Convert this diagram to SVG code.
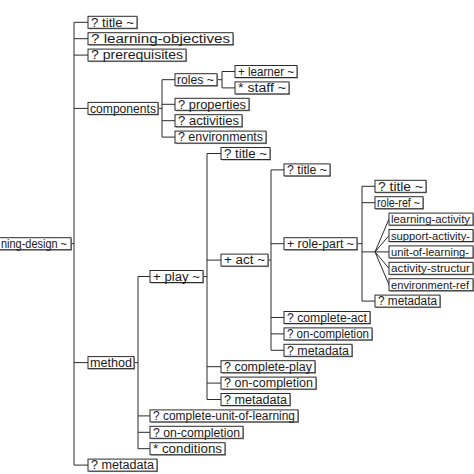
<svg xmlns="http://www.w3.org/2000/svg" width="474" height="474" viewBox="0 0 474 474">
<style>
.bx{fill:#fff;stroke:#2a2a2a;stroke-width:1}
.sh{fill:#9a9a9a}
.t{font-family:"Liberation Sans",Arial,sans-serif;font-size:12.5px;fill:#1a1a1a}
.ts{font-size:11.2px}
.c line,.c polyline{stroke:#2a2a2a;stroke-width:1;fill:none}
</style>
<rect width="474" height="474" fill="#fff"/>
<g class="c" id="connectors">
<line x1="74" y1="22.3" x2="74" y2="465.1"/>
<line x1="71" y1="243.7" x2="74" y2="243.7"/>
<line x1="74" y1="22.3" x2="88" y2="22.3"/>
<line x1="74" y1="38.7" x2="88" y2="38.7"/>
<line x1="74" y1="55.1" x2="88" y2="55.1"/>
<line x1="74" y1="108.4" x2="88" y2="108.4"/>
<line x1="74" y1="362.6" x2="88" y2="362.6"/>
<line x1="74" y1="465.1" x2="88" y2="465.1"/>
<line x1="158" y1="108.4" x2="162" y2="108.4"/>
<line x1="162" y1="79.7" x2="162" y2="137.1"/>
<line x1="162" y1="79.7" x2="175" y2="79.7"/>
<line x1="162" y1="104.3" x2="175" y2="104.3"/>
<line x1="162" y1="120.7" x2="175" y2="120.7"/>
<line x1="162" y1="137.1" x2="175" y2="137.1"/>
<line x1="217" y1="79.7" x2="222" y2="79.7"/>
<line x1="222" y1="71.5" x2="222" y2="87.9"/>
<line x1="222" y1="71.5" x2="235" y2="71.5"/>
<line x1="222" y1="87.9" x2="235" y2="87.9"/>
<line x1="134" y1="362.6" x2="138" y2="362.6"/>
<line x1="138" y1="276.5" x2="138" y2="448.7"/>
<line x1="138" y1="276.5" x2="150" y2="276.5"/>
<line x1="138" y1="415.9" x2="150" y2="415.9"/>
<line x1="138" y1="432.3" x2="150" y2="432.3"/>
<line x1="138" y1="448.7" x2="150" y2="448.7"/>
<line x1="203" y1="276.5" x2="207" y2="276.5"/>
<line x1="207" y1="153.5" x2="207" y2="399.5"/>
<line x1="207" y1="153.5" x2="221" y2="153.5"/>
<line x1="207" y1="260.1" x2="221" y2="260.1"/>
<line x1="207" y1="366.7" x2="221" y2="366.7"/>
<line x1="207" y1="383.1" x2="221" y2="383.1"/>
<line x1="207" y1="399.5" x2="221" y2="399.5"/>
<line x1="268" y1="260.1" x2="271" y2="260.1"/>
<line x1="271" y1="169.9" x2="271" y2="350.3"/>
<line x1="271" y1="169.9" x2="284" y2="169.9"/>
<line x1="271" y1="243.7" x2="284" y2="243.7"/>
<line x1="271" y1="317.5" x2="284" y2="317.5"/>
<line x1="271" y1="333.9" x2="284" y2="333.9"/>
<line x1="271" y1="350.3" x2="284" y2="350.3"/>
<line x1="357" y1="243.7" x2="362" y2="243.7"/>
<line x1="362" y1="186.3" x2="362" y2="301.1"/>
<line x1="362" y1="186.3" x2="375" y2="186.3"/>
<line x1="362" y1="202.7" x2="375" y2="202.7"/>
<line x1="362" y1="301.1" x2="375" y2="301.1"/>
<line x1="362" y1="251.9" x2="375" y2="251.9"/>
<line x1="375" y1="251.9" x2="389" y2="219.1"/>
<line x1="375" y1="251.9" x2="389" y2="235.5"/>
<line x1="375" y1="251.9" x2="389" y2="251.9"/>
<line x1="375" y1="251.9" x2="389" y2="268.3"/>
<line x1="375" y1="251.9" x2="389" y2="284.7"/>
</g>
<g id="n-root"><rect class="sh" x="0" y="238.7" width="72" height="12"/><rect class="bx" x="-1" y="237.7" width="72" height="12"/><text class="t" x="1" y="248" textLength="66" lengthAdjust="spacingAndGlyphs">ning-design ~</text></g>
<g id="n-title"><rect class="sh" x="89" y="17.3" width="49" height="12"/><rect class="bx" x="88" y="16.3" width="49" height="12"/><text class="t" x="91" y="26.6" textLength="43" lengthAdjust="spacingAndGlyphs">? title ~</text></g>
<g id="n-lobj"><rect class="sh" x="89" y="33.7" width="145" height="12"/><rect class="bx" x="88" y="32.7" width="145" height="12"/><text class="t" x="91" y="43" textLength="139" lengthAdjust="spacingAndGlyphs">? learning-objectives</text></g>
<g id="n-prereq"><rect class="sh" x="89" y="50.1" width="98" height="12"/><rect class="bx" x="88" y="49.1" width="98" height="12"/><text class="t" x="91" y="59.4" textLength="92" lengthAdjust="spacingAndGlyphs">? prerequisites</text></g>
<g id="n-components"><rect class="sh" x="89" y="103.4" width="70" height="12"/><rect class="bx" x="88" y="102.4" width="70" height="12"/><text class="t" x="90" y="112.7" textLength="66" lengthAdjust="spacingAndGlyphs">components</text></g>
<g id="n-roles"><rect class="sh" x="176" y="74.7" width="42" height="12"/><rect class="bx" x="175" y="73.7" width="42" height="12"/><text class="t" x="177" y="84" textLength="37" lengthAdjust="spacingAndGlyphs">roles ~</text></g>
<g id="n-learner"><rect class="sh" x="236" y="66.5" width="62" height="12"/><rect class="bx" x="235" y="65.5" width="62" height="12"/><text class="t" x="238" y="75.8" textLength="56" lengthAdjust="spacingAndGlyphs">+ learner ~</text></g>
<g id="n-staff"><rect class="sh" x="236" y="82.9" width="54" height="12"/><rect class="bx" x="235" y="81.9" width="54" height="12"/><text class="t" x="238" y="92.2" textLength="48" lengthAdjust="spacingAndGlyphs">* staff ~</text></g>
<g id="n-properties"><rect class="sh" x="176" y="99.3" width="74" height="12"/><rect class="bx" x="175" y="98.3" width="74" height="12"/><text class="t" x="178" y="108.6" textLength="68" lengthAdjust="spacingAndGlyphs">? properties</text></g>
<g id="n-activities"><rect class="sh" x="176" y="115.7" width="67" height="12"/><rect class="bx" x="175" y="114.7" width="67" height="12"/><text class="t" x="178" y="125" textLength="61" lengthAdjust="spacingAndGlyphs">? activities</text></g>
<g id="n-environments"><rect class="sh" x="176" y="132.1" width="91" height="12"/><rect class="bx" x="175" y="131.1" width="91" height="12"/><text class="t" x="178" y="141.4" textLength="85" lengthAdjust="spacingAndGlyphs">? environments</text></g>
<g id="n-method"><rect class="sh" x="89" y="357.6" width="46" height="12"/><rect class="bx" x="88" y="356.6" width="46" height="12"/><text class="t" x="90" y="366.9" textLength="42" lengthAdjust="spacingAndGlyphs">method</text></g>
<g id="n-play"><rect class="sh" x="151" y="271.5" width="53" height="12"/><rect class="bx" x="150" y="270.5" width="53" height="12"/><text class="t" x="153" y="280.8" textLength="47" lengthAdjust="spacingAndGlyphs">+ play ~</text></g>
<g id="n-play-title"><rect class="sh" x="222" y="148.5" width="49" height="12"/><rect class="bx" x="221" y="147.5" width="49" height="12"/><text class="t" x="224" y="157.8" textLength="43" lengthAdjust="spacingAndGlyphs">? title ~</text></g>
<g id="n-act"><rect class="sh" x="222" y="255.1" width="47" height="12"/><rect class="bx" x="221" y="254.1" width="47" height="12"/><text class="t" x="224" y="264.4" textLength="41" lengthAdjust="spacingAndGlyphs">+ act ~</text></g>
<g id="n-act-title"><rect class="sh" x="285" y="164.9" width="46" height="12"/><rect class="bx" x="284" y="163.9" width="46" height="12"/><text class="t" x="287" y="174.2" textLength="40" lengthAdjust="spacingAndGlyphs">? title ~</text></g>
<g id="n-role-part"><rect class="sh" x="285" y="238.7" width="73" height="12"/><rect class="bx" x="284" y="237.7" width="73" height="12"/><text class="t" x="287" y="248" textLength="67" lengthAdjust="spacingAndGlyphs">+ role-part ~</text></g>
<g id="n-rp-title"><rect class="sh" x="376" y="181.3" width="51" height="12"/><rect class="bx" x="375" y="180.3" width="51" height="12"/><text class="t" x="378" y="190.6" textLength="45" lengthAdjust="spacingAndGlyphs">? title ~</text></g>
<g id="n-role-ref"><rect class="sh" x="376" y="197.7" width="48" height="12"/><rect class="bx" x="375" y="196.7" width="48" height="12"/><text class="t" x="377" y="207" textLength="43" lengthAdjust="spacingAndGlyphs">role-ref ~</text></g>
<g id="n-la-ref"><rect class="sh" x="390" y="214.1" width="84" height="12"/><rect class="bx" x="389" y="213.1" width="84" height="12"/><text class="t ts" x="391" y="223.2" textLength="79" lengthAdjust="spacingAndGlyphs">learning-activity</text></g>
<g id="n-sa-ref"><rect class="sh" x="390" y="230.5" width="84" height="12"/><rect class="bx" x="389" y="229.5" width="84" height="12"/><text class="t ts" x="391" y="239.6" textLength="79" lengthAdjust="spacingAndGlyphs">support-activity-</text></g>
<g id="n-ul-ref"><rect class="sh" x="390" y="246.9" width="84" height="12"/><rect class="bx" x="389" y="245.9" width="84" height="12"/><text class="t ts" x="391" y="256" textLength="78" lengthAdjust="spacingAndGlyphs">unit-of-learning-</text></g>
<g id="n-as-ref"><rect class="sh" x="390" y="263.3" width="84" height="12"/><rect class="bx" x="389" y="262.3" width="84" height="12"/><text class="t ts" x="391" y="272.4" textLength="79" lengthAdjust="spacingAndGlyphs">activity-structur</text></g>
<g id="n-env-ref"><rect class="sh" x="390" y="279.7" width="84" height="12"/><rect class="bx" x="389" y="278.7" width="84" height="12"/><text class="t ts" x="391" y="288.8" textLength="78" lengthAdjust="spacingAndGlyphs">environment-ref</text></g>
<g id="n-rp-metadata"><rect class="sh" x="376" y="296.1" width="65" height="12"/><rect class="bx" x="375" y="295.1" width="65" height="12"/><text class="t" x="378" y="305.4" textLength="59" lengthAdjust="spacingAndGlyphs">? metadata</text></g>
<g id="n-complete-act"><rect class="sh" x="285" y="312.5" width="86" height="12"/><rect class="bx" x="284" y="311.5" width="86" height="12"/><text class="t" x="287" y="321.8" textLength="80" lengthAdjust="spacingAndGlyphs">? complete-act</text></g>
<g id="n-act-oncomp"><rect class="sh" x="285" y="328.9" width="88" height="12"/><rect class="bx" x="284" y="327.9" width="88" height="12"/><text class="t" x="287" y="338.2" textLength="82" lengthAdjust="spacingAndGlyphs">? on-completion</text></g>
<g id="n-act-metadata"><rect class="sh" x="285" y="345.3" width="68" height="12"/><rect class="bx" x="284" y="344.3" width="68" height="12"/><text class="t" x="287" y="354.6" textLength="62" lengthAdjust="spacingAndGlyphs">? metadata</text></g>
<g id="n-complete-play"><rect class="sh" x="222" y="361.7" width="94" height="12"/><rect class="bx" x="221" y="360.7" width="94" height="12"/><text class="t" x="224" y="371" textLength="88" lengthAdjust="spacingAndGlyphs">? complete-play</text></g>
<g id="n-play-oncomp"><rect class="sh" x="222" y="378.1" width="95" height="12"/><rect class="bx" x="221" y="377.1" width="95" height="12"/><text class="t" x="224" y="387.4" textLength="89" lengthAdjust="spacingAndGlyphs">? on-completion</text></g>
<g id="n-play-metadata"><rect class="sh" x="222" y="394.5" width="69" height="12"/><rect class="bx" x="221" y="393.5" width="69" height="12"/><text class="t" x="224" y="403.8" textLength="63" lengthAdjust="spacingAndGlyphs">? metadata</text></g>
<g id="n-complete-uol"><rect class="sh" x="151" y="410.9" width="148" height="12"/><rect class="bx" x="150" y="409.9" width="148" height="12"/><text class="t" x="153" y="420.2" textLength="142" lengthAdjust="spacingAndGlyphs">? complete-unit-of-learning</text></g>
<g id="n-oncomp"><rect class="sh" x="151" y="427.3" width="93" height="12"/><rect class="bx" x="150" y="426.3" width="93" height="12"/><text class="t" x="153" y="436.6" textLength="87" lengthAdjust="spacingAndGlyphs">? on-completion</text></g>
<g id="n-conditions"><rect class="sh" x="151" y="443.7" width="75" height="12"/><rect class="bx" x="150" y="442.7" width="75" height="12"/><text class="t" x="153" y="453" textLength="69" lengthAdjust="spacingAndGlyphs">* conditions</text></g>
<g id="n-metadata"><rect class="sh" x="89" y="460.1" width="69" height="12"/><rect class="bx" x="88" y="459.1" width="69" height="12"/><text class="t" x="91" y="469.4" textLength="63" lengthAdjust="spacingAndGlyphs">? metadata</text></g>
</svg>
